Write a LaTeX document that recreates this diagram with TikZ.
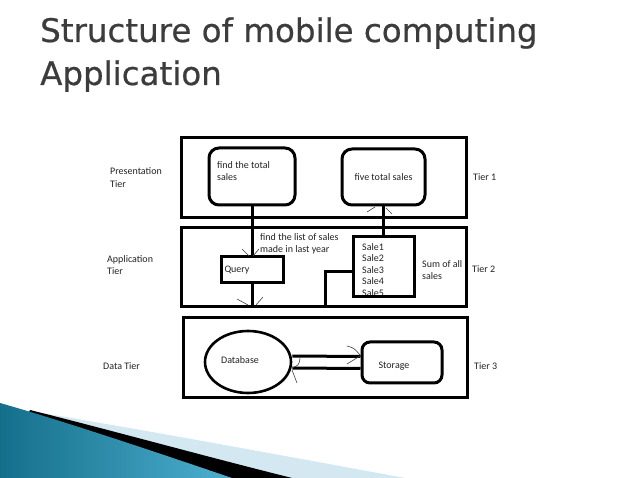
\documentclass[tikz,border=0pt]{standalone}
\usepackage{fontspec}
\setmainfont{Carlito}
\newfontfamily\titlefont[FakeBold=0.6]{DejaVu Sans}
\usetikzlibrary{shapes.geometric}
\definecolor{titlegray}{HTML}{3C3C3C}
\definecolor{inkgray}{HTML}{222222}
\definecolor{tealdark}{HTML}{146F8B}
\definecolor{teallight}{HTML}{4DAFCF}
\definecolor{swooshlight}{HTML}{D3E8F0}
\begin{document}
\begin{tikzpicture}[x=1pt,y=-1pt,
  tierbox/.style={draw=black,line width=3pt,inner sep=0pt},
  roundbox/.style={draw=black,line width=3pt,rounded corners=10pt,inner sep=0pt},
  plainbox/.style={draw=black,line width=3pt,inner sep=0pt},
  conn/.style={draw=black,line width=3pt},
  tick/.style={draw=black!75,line width=0.6pt},
  lbl/.style={inner sep=0pt,font=\fontsize{10}{12.5}\selectfont,text=inkgray,align=left},
  ttl/.style={inner sep=0pt,anchor=base west,font=\titlefont\fontsize{32.5}{40}\selectfont,text=titlegray}
]
\useasboundingbox (0,0) rectangle (638,478);
% bottom swoosh
\fill[swooshlight] (36,412) .. controls (150,431) and (280,455) .. (405,478) -- (0,478) -- cycle;
\fill[black] (30,410) .. controls (110,430) and (200,455) .. (292,478) -- (0,478) -- cycle;
\shade[left color=tealdark,right color=teallight] (0,403) .. controls (60,420) and (150,450) .. (232,478) -- (0,478) -- cycle;
% title
\node[ttl] (title1) at (40,42) {Structure of mobile computing};
\node[ttl] (title2) at (40,85) {Application};
% tier frames
\node[tierbox,minimum width=285pt,minimum height=80pt] (t1) at (323.5,178) {};
\node[tierbox,minimum width=285pt,minimum height=79pt] (t2) at (323.5,267.5) {};
\node[tierbox,minimum width=284pt,minimum height=80pt] (t3) at (325,358) {};
% tier labels
\node[lbl,anchor=west] (lp) at (110,177.5) {Presentation\\Tier};
\node[lbl,anchor=west] (la) at (107,265) {Application\\Tier};
\node[lbl,anchor=west] (ld) at (103,366) {Data Tier};
\node[lbl,anchor=west] (r1) at (473,177) {Tier 1};
\node[lbl,anchor=west] (r2) at (472,269) {Tier 2};
\node[lbl,anchor=west] (r3) at (474,366) {Tier 3};
% tier 1
\node[roundbox,minimum width=86pt,minimum height=57pt] (find) at (252,176.5) {};
\node[lbl,anchor=north west] (findtxt) at (217,161) {find the total\\sales};
\node[roundbox,minimum width=83pt,minimum height=56pt,lbl] (five) at (383.5,177) {five total sales};
% tier 2
\node[plainbox,minimum width=62pt,minimum height=26pt,text width=55pt,inner xsep=3.5pt,lbl] (query) at (252,270) {Query};
\node[lbl,anchor=north west] (listtxt) at (260,233) {find the list of sales\\made in last year};
\node[lbl,anchor=north west,font=\fontsize{10}{11.5}\selectfont] (saletxt) at (362,243) {Sale1\\Sale2\\Sale3\\Sale4\\Sale5};
\node[plainbox,minimum width=61pt,minimum height=60pt] (sale) at (383.5,267) {};
\node[lbl,anchor=west] (sumtxt) at (422,270) {Sum of all\\sales};
% tier 3
\node[draw=black,line width=2.6pt,ellipse,minimum width=86pt,minimum height=62pt,inner sep=0pt] (db) at (248,362) {};
\node[lbl] (dbtxt) at (240,360) {Database};
\node[roundbox,rounded corners=8pt,minimum width=80pt,minimum height=41pt] (st) at (402,362.5) {};
\node[lbl] (sttxt) at (394,366) {Storage};
% connectors
\coordinate (qbot) at (252,307);
\coordinate (sbot) at (325,307);
\draw[conn] (find.south) -- (query.north);
\draw[conn] (query.south) -- (qbot);
\draw[conn] (sale.north) -- (five.south);
\draw[conn] ([yshift=-5pt]sale.west) -| (sbot);
\draw[conn] ([yshift=6pt]db.east) -- ([yshift=6pt]st.west);
\draw[conn] ([yshift=-6pt]db.east) -- ([yshift=-6pt]st.west);
% hand-drawn arrow marks
\draw[tick] (367,212) -- (375,207);
\draw[tick] (386,208) -- (392,214);
\draw[tick] (242,249) -- (249,256);
\draw[tick] (253,256) -- (259,249);
\draw[tick] (237,299) -- (248,305);
\draw[tick] (256,305) -- (263,297);
\draw[tick] (347,346) .. controls (354,348) .. (360,355);
\draw[tick] (347,364) -- (360,356);
\draw[tick] (300,358) .. controls (299,365) .. (292,368);
\draw[tick] (292,370) .. controls (295,376) .. (297,383);
\end{tikzpicture}
\end{document}
